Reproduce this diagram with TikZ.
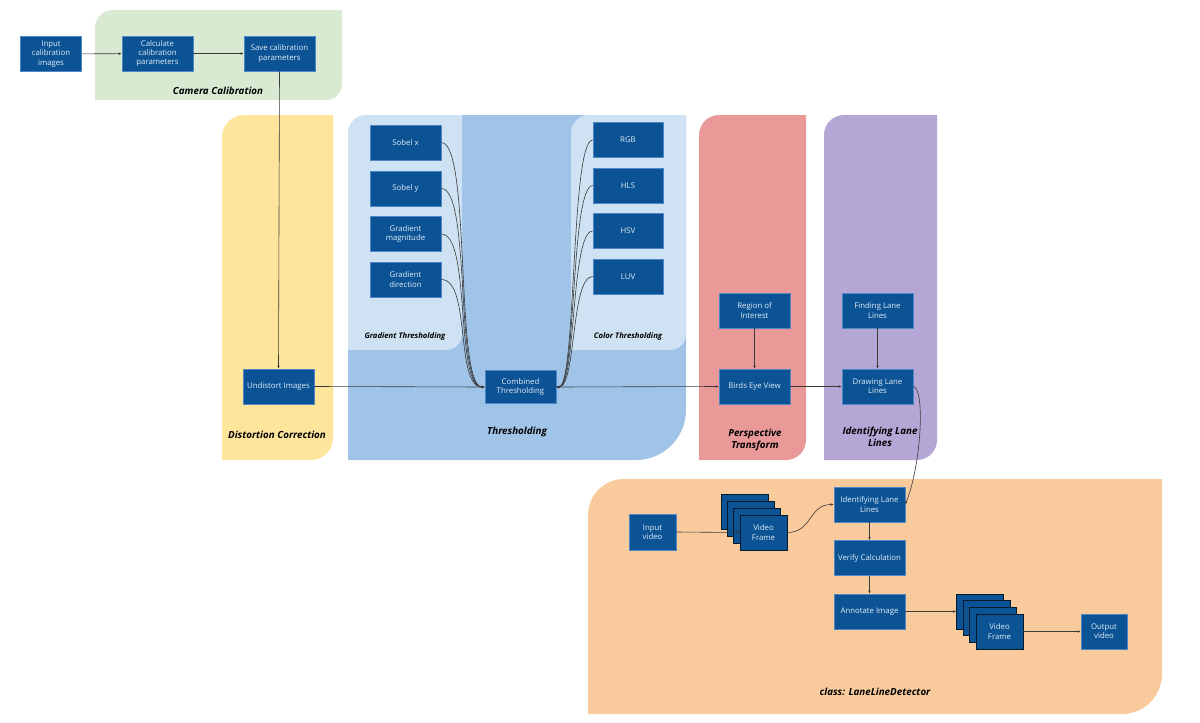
\documentclass[tikz,border=0pt]{standalone}
\usepackage{fontspec}
\setmainfont{Open Sans}
\usetikzlibrary{arrows.meta}
\definecolor{cgreen}{HTML}{D9EAD3}
\definecolor{cyellow}{HTML}{FDE59B}
\definecolor{cblue}{HTML}{A0C4E8}
\definecolor{clight}{HTML}{CFE2F3}
\definecolor{cred}{HTML}{EA9999}
\definecolor{cpurple}{HTML}{B4A7D6}
\definecolor{corange}{HTML}{F9CB9C}
\definecolor{nblue}{HTML}{0B5394}
\definecolor{nborder}{HTML}{4F86C6}
\definecolor{ntext}{HTML}{E3ECF7}
\definecolor{edgec}{HTML}{3A3A3A}
\newcommand\lpanel[7]{%
 \fill[#1] (#2,#5) -- (#2,{#3+#6}) .. controls (#2,{#3+0.448*#6}) and ({#2+0.448*#6},#3) .. ({#2+#6},#3) -- (#4,#3) -- (#4,{#5-#7}) .. controls (#4,{#5-0.448*#7}) and ({#4-0.448*#7},#5) .. ({#4-#7},#5) -- cycle;}
\tikzset{
 box/.style={draw=nborder, line width=0.6pt, fill=nblue, text=ntext, minimum width=71pt, minimum height=35pt, inner sep=1pt, align=center, font=\fontsize{7.8}{9.2}\selectfont},
 frame/.style={box, draw=black!70!nblue, minimum width=47pt, minimum height=35pt},
 lbl/.style={font=\fontsize{9.8}{12.5}\selectfont\bfseries\itshape, align=center, text=black},
 slbl/.style={font=\fontsize{7.7}{9}\selectfont\bfseries\itshape, align=center, text=black},
 conn/.style={draw=edgec, line width=0.6pt, -{Latex[length=3pt,width=2.6pt]}}
}
\begin{document}
\begin{tikzpicture}[x=1pt,y=-1pt]
\useasboundingbox[fill=white] (0,0) rectangle (1200,723);
% panels
\lpanel{cgreen}{95}{10}{342}{100}{18}{16}
\lpanel{cyellow}{222}{115}{333}{460}{22}{22}
\lpanel{cblue}{348}{115}{686}{460}{20}{50}
\lpanel{clight}{348}{115}{462}{350}{18}{16}
\lpanel{clight}{571}{115}{686}{350}{18}{16}
\lpanel{cred}{699}{115}{806}{460}{20}{20}
\lpanel{cpurple}{824}{115}{937}{460}{20}{20}
\lpanel{corange}{588}{479}{1162}{714}{36}{40}
% panel labels
\node[lbl] (lcam) at (218,91) {Camera Calibration};
\node[lbl] (ldist) at (277,435) {Distortion Correction};
\node[slbl] (lgrad) at (405,336) {Gradient Thresholding};
\node[slbl] (lcol) at (628,336) {Color Thresholding};
\node[lbl] (lthr) at (517,432) {Thresholding};
\node[lbl] (lpers) at (755,440) {Perspective\\Transform};
\node[lbl] (lident) at (880,437) {Identifying Lane\\Lines};
\node[lbl] (lclass) at (875,692) {class: LaneLineDetector};
% nodes
\node[box, minimum width=61pt] (incal) at (51,54) {Input\\calibration\\images};
\node[box] (calc) at (157.5,53.5) {Calculate\\calibration\\parameters};
\node[box] (save) at (279.5,53.5) {Save calibration\\parameters};
\node[box] (undist) at (278.5,386.5) {Undistort Images};
\node[box] (sobx) at (405.5,142.5) {Sobel x};
\node[box] (soby) at (405.5,188.5) {Sobel y};
\node[box] (gmag) at (405.5,234) {Gradient\\magnitude};
\node[box] (gdir) at (405.5,279.5) {Gradient\\direction};
\node[box, minimum width=70pt] (rgb) at (628,140) {RGB};
\node[box, minimum width=70pt] (hls) at (628,185.5) {HLS};
\node[box, minimum width=70pt] (hsv) at (628,231) {HSV};
\node[box, minimum width=70pt] (luv) at (628,276.5) {LUV};
\node[box, minimum height=33pt] (comb) at (520.5,387) {Combined\\Thresholding};
\node[box] (roi) at (754.5,310.5) {Region of\\Interest};
\node[box] (birds) at (754.5,386.5) {Birds Eye View};
\node[box] (find) at (877.5,310.5) {Finding Lane\\Lines};
\node[box] (drawl) at (877.5,386.5) {Drawing Lane\\Lines};
\node[box] (ident) at (869.5,504.5) {Identifying Lane\\Lines};
\node[box] (verify) at (869.5,558) {Verify Calculation};
\node[box] (annot) at (869.5,611.5) {Annotate Image};
\node[box, minimum width=47pt, minimum height=36pt] (invid) at (652.5,532) {Input\\video};
\node[frame] (vfa) at (744.5,511.5) {};
\node[frame] (vfb) at (750.8,518.5) {};
\node[frame] (vfc) at (757.2,525.5) {};
\node[frame] (vfd) at (763.5,532.5) {Video\\Frame};
\node[frame] (vga) at (980,611.5) {};
\node[frame] (vgb) at (986.5,618.2) {};
\node[frame] (vgc) at (993,624.8) {};
\node[frame] (vgd) at (999.5,631.5) {Video\\Frame};
\node[box, minimum width=46pt] (outvid) at (1104,631.5) {Output\\video};
% connectors
\draw[conn] (incal) -- (calc);
\draw[conn] (calc) -- (save);
\draw[conn] (save.south) -- (undist.north);
\draw[conn] (undist.east) -- (comb.west);
\foreach \n in {sobx,soby,gmag,gdir}
  \draw[conn] (\n.east) .. controls +(30,0) and +(-30,0) .. (comb.west);
\foreach \n in {rgb,hls,hsv,luv}
  \draw[conn] (\n.west) .. controls +(-22,0) and +(20,0) .. (comb.east);
\draw[conn] (comb.east) -- (birds.west);
\draw[conn] (roi) -- (birds);
\draw[conn] (birds) -- (drawl);
\draw[conn] (find) -- (drawl);
\draw[conn] (drawl.east) .. controls +(12,2) and +(16,-40) .. (ident.east);
\draw[conn] (invid.east) -- (vfd.west);
\draw[conn] (vfd.east) .. controls +(25,0) and +(-25,0) .. (ident.west);
\draw[conn] (ident) -- (verify);
\draw[conn] (verify) -- (annot);
\draw[conn] (annot.east) -- (vga.west);
\draw[conn] (vgd.east) -- (outvid.west);
\end{tikzpicture}
\end{document}
